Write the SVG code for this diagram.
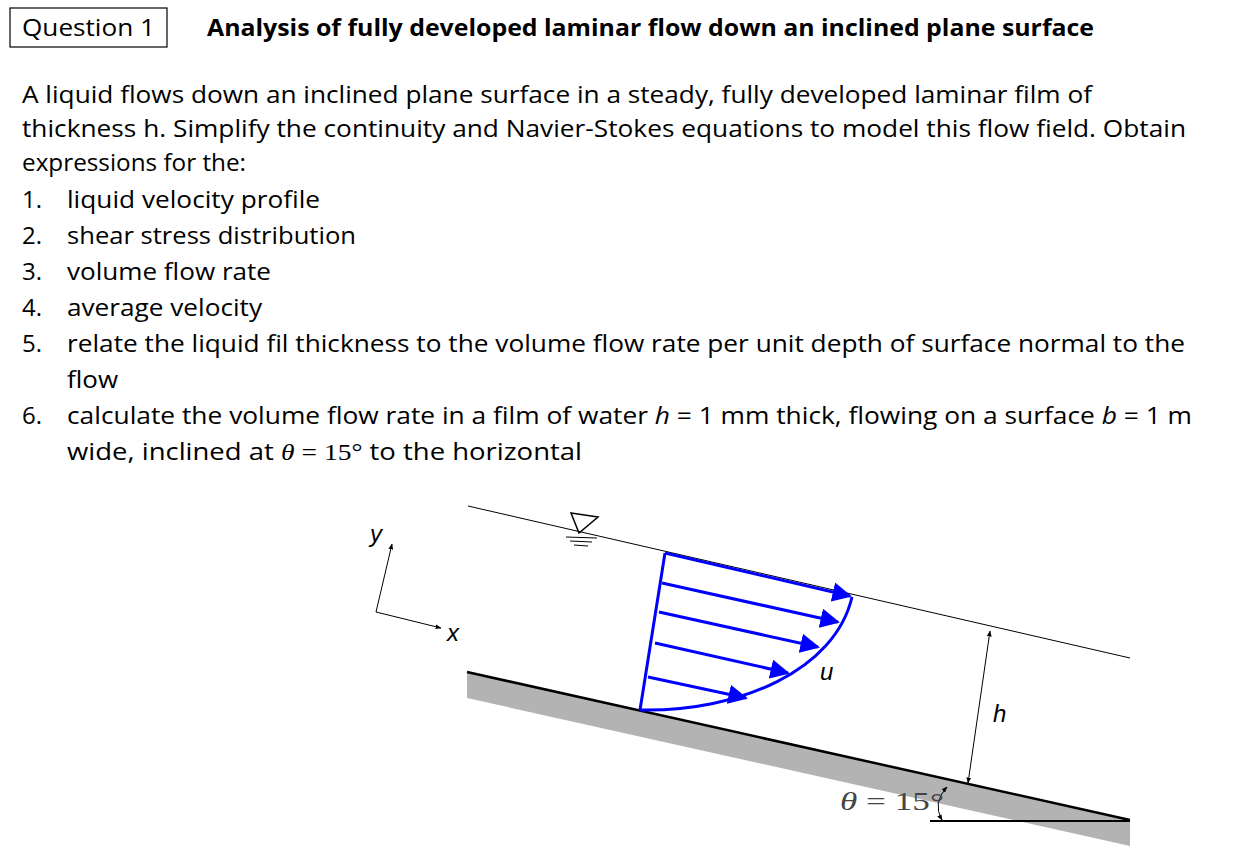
<svg xmlns="http://www.w3.org/2000/svg" width="1236" height="868" viewBox="0 0 1236 868">
<defs>
<marker id="ab" viewBox="0 0 10 10" refX="9" refY="5" markerWidth="6.5" markerHeight="6.5" orient="auto-start-reverse"><path d="M0,0L10,5L0,10z" fill="#00f"/></marker>
<marker id="ak" viewBox="0 0 10 10" refX="9" refY="5" markerWidth="6" markerHeight="6" orient="auto-start-reverse"><path d="M0,1L10,5L0,9z" fill="#000"/></marker>
</defs>
<style>
.t{font-family:"Open Sans","Liberation Sans",sans-serif;font-size:24px;fill:#000}
.b{stroke:#00f;stroke-width:3;fill:none}
.k{stroke:#000;fill:none}
.i{font-family:"Liberation Sans",sans-serif;font-style:italic;font-size:24px}
</style>
<rect width="1236" height="868" fill="#fff"/>
<g id="header">
<rect x="10" y="8" width="157" height="39" fill="none" stroke="#000" stroke-width="1.2"/>
<text x="22" y="36" class="t" textLength="133" lengthAdjust="spacingAndGlyphs">Question 1</text>
<text x="207" y="36" class="t" font-weight="bold" textLength="887" lengthAdjust="spacingAndGlyphs">Analysis of fully developed laminar flow down an inclined plane surface</text>
</g>
<g id="body" class="t">
<text x="22" y="103" textLength="1070" lengthAdjust="spacingAndGlyphs">A liquid flows down an inclined plane surface in a steady, fully developed laminar film of</text>
<text x="22" y="137" textLength="1164" lengthAdjust="spacingAndGlyphs">thickness h. Simplify the continuity and Navier-Stokes equations to model this flow field. Obtain</text>
<text x="22" y="171" textLength="224" lengthAdjust="spacingAndGlyphs">expressions for the:</text>
<text x="22" y="208">1.</text><text x="67" y="208" textLength="253" lengthAdjust="spacingAndGlyphs">liquid velocity profile</text>
<text x="22" y="244">2.</text><text x="67" y="244" textLength="289" lengthAdjust="spacingAndGlyphs">shear stress distribution</text>
<text x="22" y="280">3.</text><text x="67" y="280" textLength="204" lengthAdjust="spacingAndGlyphs">volume flow rate</text>
<text x="22" y="316">4.</text><text x="67" y="316" textLength="195" lengthAdjust="spacingAndGlyphs">average velocity</text>
<text x="22" y="352">5.</text><text x="67" y="352" textLength="1118" lengthAdjust="spacingAndGlyphs">relate the liquid fil thickness to the volume flow rate per unit depth of surface normal to the</text>
<text x="67" y="388" textLength="51" lengthAdjust="spacingAndGlyphs">flow</text>
<text x="22" y="424">6.</text><text x="67" y="424" textLength="1125" lengthAdjust="spacingAndGlyphs">calculate the volume flow rate in a film of water <tspan font-style="italic">h</tspan> = 1 mm thick, flowing on a surface <tspan font-style="italic">b</tspan> = 1 m</text>
<text x="67" y="460" textLength="515" lengthAdjust="spacingAndGlyphs">wide, inclined at <tspan font-family="Liberation Serif" font-style="italic">θ</tspan> <tspan font-family="Liberation Serif">= 15°</tspan> to the horizontal</text>
</g>
<g id="plane">
<path d="M467,672L1130,820L1130,846L467,698z" fill="#b3b3b3"/>
<path d="M467,672L1130,820" class="k" stroke-width="2.5"/>
<path d="M930,821L1130,821" class="k" stroke-width="2"/>
<path d="M468,506L1130,658" class="k" stroke-width="1"/>
</g>
<g id="surface-symbol" class="k" stroke-width="1.5">
<path d="M571,513L598,517L579,533z"/>
<path d="M566,537L597,538M570,541L592,542M574,545L588,546" stroke-width="1"/>
</g>
<g id="axes">
<path d="M376,612L392,544" class="k" marker-end="url(#ak)"/>
<path d="M376,612L441,628" class="k" marker-end="url(#ak)"/>
<text x="370" y="542" class="i">y</text>
<text x="447" y="641" class="i">x</text>
</g>
<g id="profile">
<path d="M640,710L665,553" class="b"/>
<path d="M640,710C740,712 835,670 852,597" class="b"/>
<path d="M665,553L850,596" class="b" marker-end="url(#ab)"/>
<path d="M662,583L838,622" class="b" marker-end="url(#ab)"/>
<path d="M659,612L818,647" class="b" marker-end="url(#ab)"/>
<path d="M655,643L788,673" class="b" marker-end="url(#ab)"/>
<path d="M648,677L746,698" class="b" marker-end="url(#ab)"/>
<text x="820" y="680" class="i">u</text>
</g>
<g id="dimensions">
<path d="M990,631L968,783" class="k" marker-start="url(#ak)" marker-end="url(#ak)"/>
<text x="993" y="722" class="i">h</text>
<path d="M947,787Q932,803 942,820" class="k" marker-start="url(#ak)" marker-end="url(#ak)"/>
<text x="840" y="810" font-family="Liberation Serif,serif" font-size="26" fill="#444" textLength="104" lengthAdjust="spacingAndGlyphs"><tspan font-style="italic">θ</tspan> = 15°</text>
</g>
</svg>
